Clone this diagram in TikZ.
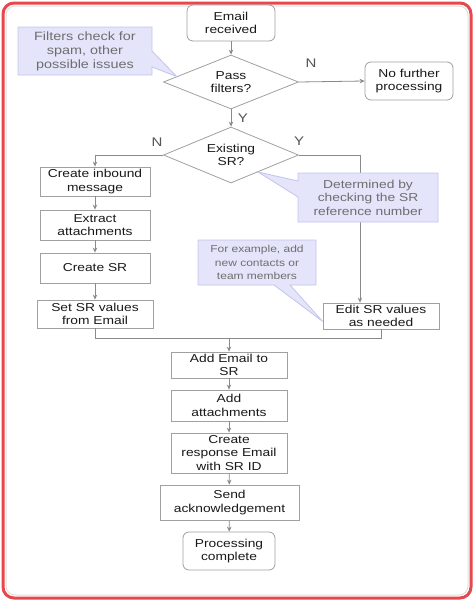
\documentclass[tikz,border=0pt]{standalone}
\usepackage{fontspec}
\setmainfont{Liberation Sans}[FakeStretch=1.2]
\usetikzlibrary{shapes.geometric,shapes.callouts,arrows.meta,calc}
\definecolor{frameRed}{HTML}{E5484D}
\definecolor{lineGray}{HTML}{8A8A8A}
\definecolor{boxGray}{HTML}{A0A0A0}
\definecolor{noteFill}{HTML}{E4E4FA}
\definecolor{noteLine}{HTML}{C4C4EE}
\definecolor{noteText}{HTML}{6E6E6E}
\definecolor{lblGray}{HTML}{555555}
\begin{document}
\begin{tikzpicture}[x=1pt,y=-1pt,
  every node/.style={font=\fontsize{11.5}{13.5}\selectfont, text=black!90},
  proc/.style={rectangle, draw=boxGray, line width=0.8pt, fill=white, align=center, inner sep=0pt},
  term/.style={proc, rounded corners=6pt},
  dec/.style={diamond, draw=boxGray, line width=0.8pt, fill=white, align=center, inner sep=0pt, aspect=2.5},
  conn/.style={draw=lineGray, line width=0.8pt, -{Stealth[length=5pt,width=4.5pt]}},
  plain/.style={draw=lineGray, line width=0.8pt},
  note/.style={rectangle callout, draw=noteLine, line width=0.8pt, fill=noteFill, align=center, inner sep=0pt, text=noteText, callout pointer width=16pt},
  yn/.style={text=lblGray, font=\fontsize{12.5}{14}\selectfont}
]
\useasboundingbox (0,0) rectangle (474,600);
\fill[white] (0,0) rectangle (474,600);
% frame
\draw[black!12, line width=1pt, rounded corners=9pt] (6,6) rectangle (468,595);
\draw[frameRed, line width=3pt, rounded corners=11pt] (3,3) rectangle (471,598);

% nodes
\node[term, minimum width=88pt, minimum height=36pt] (email) at (231,23) {Email\\received};
\node[dec, minimum width=135pt, minimum height=54pt] (pass) at (231,82) {Pass\\filters?};
\node[term, minimum width=88pt, minimum height=38pt] (nofur) at (409,81) {No further\\processing};
\node[dec, minimum width=135pt, minimum height=56pt] (exist) at (231,155) {Existing\\SR?};
\node[proc, minimum width=110pt, minimum height=29pt] (inbound) at (95,181.5) {Create inbound\\message};
\node[proc, minimum width=110pt, minimum height=30pt] (extract) at (95,225) {Extract\\attachments};
\node[proc, minimum width=110pt, minimum height=30pt] (csr) at (95,268) {Create SR};
\node[proc, minimum width=116pt, minimum height=28pt] (setsr) at (95,314) {Set SR values\\from Email};
\node[proc, minimum width=116pt, minimum height=26pt] (edit) at (381,316) {Edit SR values\\as needed};
\node[proc, minimum width=116pt, minimum height=26pt] (addemail) at (229,365) {Add Email to\\SR};
\node[proc, minimum width=116pt, minimum height=31pt] (addatt) at (229,405.5) {Add\\attachments};
\node[proc, minimum width=116pt, minimum height=40pt] (resp) at (229,453) {Create\\response Email\\with SR ID};
\node[proc, minimum width=139pt, minimum height=35pt] (send) at (229.5,502.5) {Send\\acknowledgement};
\node[term, minimum width=92pt, minimum height=38pt] (done) at (229,551) {Processing\\complete};

% connectors
\draw[conn] (email) -- (pass);
\draw[conn] (pass.east) -- (nofur.west);
\draw[conn] (pass.south) -- (exist.north);
\draw[conn] (exist.west) -| (inbound.north);
\coordinate (editin) at ($(edit.north west)!0.32!(edit.north east)$);
\draw[conn] (exist.east) -| (editin);
\draw[conn] (inbound) -- (extract);
\draw[conn] (extract) -- (csr);
\draw[conn] (csr) -- (setsr);
\coordinate (merge) at ($(addemail.north)+(0,-13)$);
\draw[plain] (setsr.south) -- (setsr.south |- merge) -- (edit.south |- merge) -- (edit.south);
\draw[conn] (merge) -- (addemail.north);
\draw[conn] (addemail) -- (addatt);
\draw[conn] (addatt) -- (resp);
\draw[conn] (resp) -- (send);
\draw[conn] (send) -- (done);

% labels
\node[yn] (n1) at (311,63) {N};
\node[yn] (y1) at (243,118) {Y};
\node[yn] (n2) at (157,142) {N};
\node[yn] (y2) at (299,141) {Y};

% callouts
\node[note, minimum width=134pt, minimum height=48pt, font=\fontsize{12}{14}\selectfont,
  callout absolute pointer={($(pass.west)!0.2!(pass.north)$)}] (c1) at (85,51)
  {Filters check for\\spam, other\\possible issues};
\node[note, minimum width=140pt, minimum height=49pt,
  callout absolute pointer={($(exist.south)!0.4!(exist.east)$)}] (c2) at (368,197.5)
  {Determined by\\checking the SR\\reference number};
\node[note, minimum width=118pt, minimum height=45pt, font=\fontsize{10}{13.3}\selectfont,
  callout absolute pointer={($(edit.south west)!0.3!(edit.north west)$)}] (c3) at (257,262.5)
  {For example, add\\new contacts or\\team members};
\end{tikzpicture}
\end{document}
